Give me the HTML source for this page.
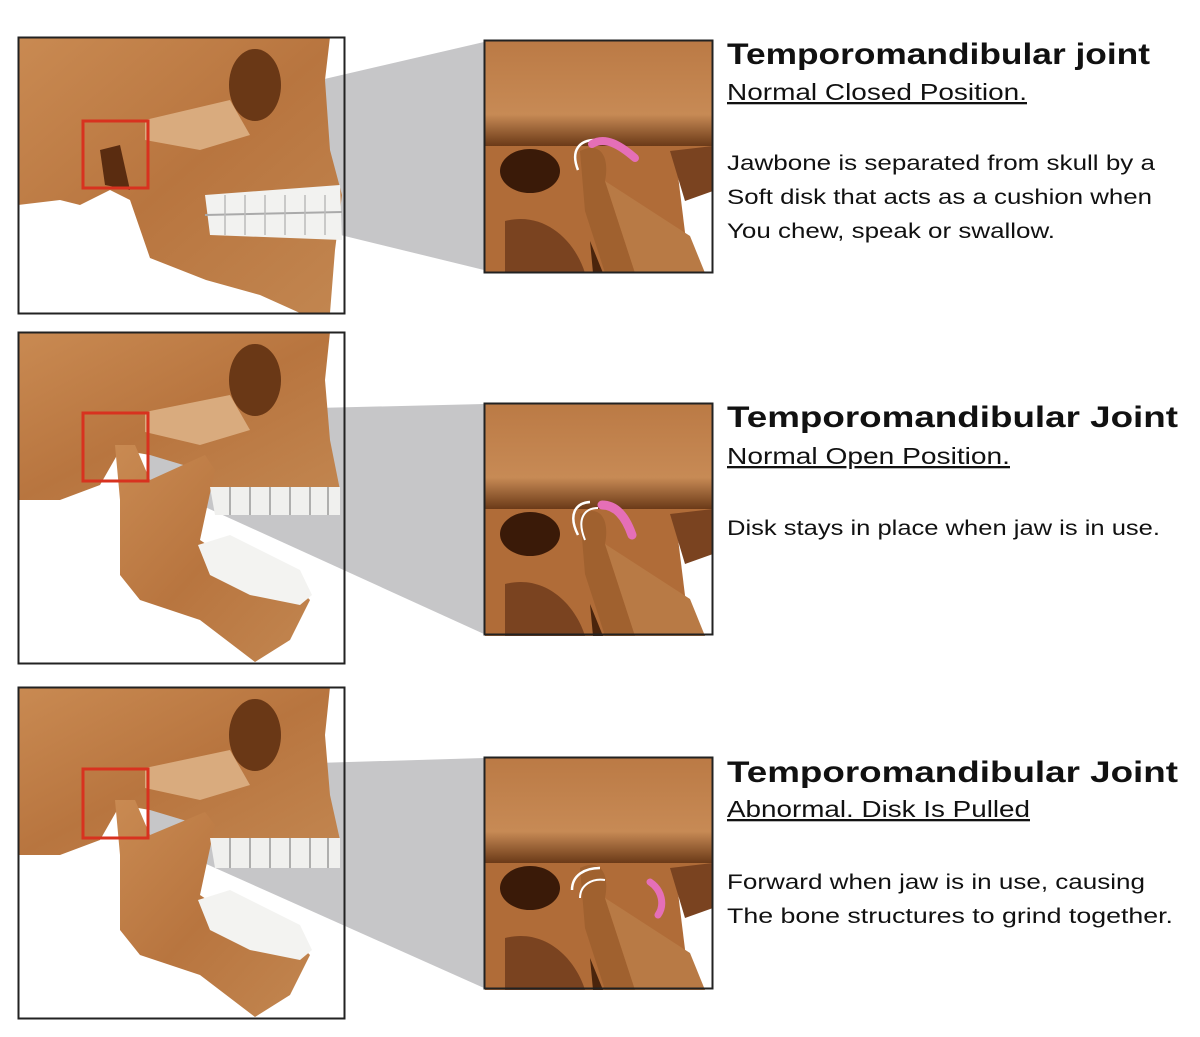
<!DOCTYPE html>
<html><head><meta charset="utf-8"><style>
html,body{margin:0;padding:0;background:#fff;}
svg{display:block}
text{font-family:"Liberation Sans",sans-serif;fill:#111}
.t{font-weight:bold;font-size:30px}
.s{font-size:23px;text-decoration:underline}
.b{font-size:21px}
</style></head><body>
<svg width="1200" height="1037" viewBox="0 0 1200 1037" xmlns="http://www.w3.org/2000/svg">
<defs>
<linearGradient id="bone" x1="0" y1="0" x2="1" y2="1">
<stop offset="0" stop-color="#c98a52"/><stop offset="0.5" stop-color="#b8753f"/><stop offset="1" stop-color="#c28650"/></linearGradient>
<linearGradient id="arch" x1="0" y1="0" x2="0" y2="1">
<stop offset="0" stop-color="#bb7a45"/><stop offset="0.7" stop-color="#c78a55"/><stop offset="1" stop-color="#6b3a18"/></linearGradient>
<g id="inset">
<rect x="0" y="0" width="228" height="232" fill="#b06c38"/>
<rect x="0" y="0" width="228" height="105" fill="url(#arch)"/>
<path d="M190,110 L228,110 L228,232 L205,232 Z" fill="#fff"/>
<path d="M185,110 L228,105 L228,150 L200,160 Z" fill="#7a4320"/>
<ellipse cx="45" cy="130" rx="30" ry="22" fill="#3a1a08"/>
<path d="M95,110 C115,100 125,115 120,140 L150,232 L120,232 L100,170 Z" fill="#a0612f"/>
<path d="M120,140 L205,195 L220,232 L150,232 Z" fill="#b87a45"/>
<path d="M20,180 C60,170 90,200 100,232 L20,232 Z" fill="#7a4320"/>
<path d="M105,200 L118,232 L108,232 Z" fill="#4a240c"/>
</g>
</defs>

<!-- gray projections -->
<polygon points="148,120 484,42 484,270 148,188" fill="#c6c6c8"/>
<polygon points="148,412 484,404 484,634 148,481" fill="#c6c6c8"/>
<polygon points="148,768 484,758 484,988 148,838" fill="#c6c6c8"/>

<!-- row1 skull -->
<path d="M18,37 H330 L325,80 L330,150 L342,195 L335,250 L330,313 H300 L260,295 L206,280 L150,258 L130,200 L110,190 L80,205 L60,200 L18,205 Z" fill="url(#bone)"/>
<ellipse cx="255" cy="85" rx="26" ry="36" fill="#6a3816"/>
<path d="M145,120 L230,100 L250,135 L200,150 L145,140 Z" fill="#d9ab7e"/>
<path d="M205,195 L340,185 L342,240 L210,235 Z" fill="#f2f2f0"/>
<path d="M205,215 L342,212" stroke="#aaa" stroke-width="2"/>
<g stroke="#bbb" stroke-width="1.5"><path d="M225,195V235M245,195V235M265,195V235M285,195V235M305,195V235M325,195V235"/></g>
<path d="M100,150 L120,145 L130,190 L105,185 Z" fill="#5a2c10"/>

<!-- row2 skull -->
<path d="M18,332 H330 L325,380 L330,440 L340,490 L210,490 L200,470 L150,455 L120,450 L100,485 L60,500 L18,500 Z" fill="url(#bone)"/>
<ellipse cx="255" cy="380" rx="26" ry="36" fill="#6a3816"/>
<path d="M145,412 L230,395 L250,430 L200,445 L145,432 Z" fill="#d9ab7e"/>
<path d="M115,445 L135,445 L150,480 L205,455 L215,470 L200,540 L230,560 L300,590 L310,600 L290,640 L255,662 L200,620 L140,600 L120,575 L120,500 Z" fill="url(#bone)"/>
<path d="M210,487 L340,487 L340,515 L215,515 Z" fill="#f0f0ee"/>
<g stroke="#999" stroke-width="1.5"><path d="M230,487V515M250,487V515M270,487V515M290,487V515M310,487V515M328,487V515"/></g>
<path d="M198,545 L230,535 L300,570 L312,595 L300,605 L250,595 L210,575 Z" fill="#f3f3f1"/>

<!-- row3 skull -->
<path d="M18,687 H330 L325,735 L330,795 L340,840 L210,840 L200,825 L150,810 L120,805 L100,840 L60,855 L18,855 Z" fill="url(#bone)"/>
<ellipse cx="255" cy="735" rx="26" ry="36" fill="#6a3816"/>
<path d="M145,768 L230,750 L250,785 L200,800 L145,788 Z" fill="#d9ab7e"/>
<path d="M115,800 L135,800 L150,835 L205,812 L215,825 L200,895 L230,915 L300,945 L310,955 L290,995 L255,1017 L200,975 L140,955 L120,930 L120,855 Z" fill="url(#bone)"/>
<path d="M210,838 L340,838 L340,868 L215,868 Z" fill="#f0f0ee"/>
<g stroke="#999" stroke-width="1.5"><path d="M230,838V868M250,838V868M270,838V868M290,838V868M310,838V868M328,838V868"/></g>
<path d="M198,900 L230,890 L300,925 L312,950 L300,960 L250,950 L210,930 Z" fill="#f3f3f1"/>

<!-- left frames -->
<rect x="18.5" y="37.5" width="326" height="276" fill="none" stroke="#222" stroke-width="2"/>
<rect x="18.5" y="332.5" width="326" height="331" fill="none" stroke="#222" stroke-width="2"/>
<rect x="18.5" y="687.5" width="326" height="331" fill="none" stroke="#222" stroke-width="2"/>
<!-- white outside frames right -->
<!-- red boxes -->
<rect x="83" y="121" width="65" height="67" fill="none" stroke="#d8321f" stroke-width="3"/>
<rect x="83" y="413" width="65" height="68" fill="none" stroke="#d8321f" stroke-width="3"/>
<rect x="83" y="769" width="65" height="69" fill="none" stroke="#d8321f" stroke-width="3"/>

<!-- insets -->
<use href="#inset" x="485" y="41"/>
<use href="#inset" x="485" y="404"/>
<use href="#inset" x="485" y="758"/>
<!-- disks -->
<path d="M578,170 C570,150 580,140 595,140" fill="none" stroke="#fff" stroke-width="2.5"/>
<path d="M592,144 C605,136 620,145 635,158" stroke="#e56fb7" stroke-width="8" fill="none" stroke-linecap="round"/>
<path d="M578,535 C568,515 575,503 590,502" fill="none" stroke="#fff" stroke-width="2.5"/>
<path d="M585,540 C576,518 585,508 598,508" fill="none" stroke="#fff" stroke-width="2"/>
<path d="M602,505 C615,505 625,515 632,535" stroke="#e56fb7" stroke-width="9" fill="none" stroke-linecap="round"/>
<path d="M572,890 C572,875 585,868 600,868" fill="none" stroke="#fff" stroke-width="2.5"/>
<path d="M580,898 C580,885 592,878 605,880" fill="none" stroke="#fff" stroke-width="2"/>
<path d="M650,882 C662,890 665,905 658,915" stroke="#e56fb7" stroke-width="7" fill="none" stroke-linecap="round"/>
<rect x="484.5" y="40.5" width="228" height="232" fill="none" stroke="#222" stroke-width="2"/>
<rect x="484.5" y="403.5" width="228" height="231" fill="none" stroke="#222" stroke-width="2"/>
<rect x="484.5" y="757.5" width="228" height="231" fill="none" stroke="#222" stroke-width="2"/>

<!-- text -->
<text class="t" x="727" y="64" textLength="423" lengthAdjust="spacingAndGlyphs">Temporomandibular joint</text>
<text class="s" x="727" y="100" textLength="300" lengthAdjust="spacingAndGlyphs">Normal Closed Position.</text>
<text class="b" x="727" y="170" textLength="428" lengthAdjust="spacingAndGlyphs">Jawbone is separated from skull by a</text>
<text class="b" x="727" y="204" textLength="425" lengthAdjust="spacingAndGlyphs">Soft disk that acts as a cushion when</text>
<text class="b" x="727" y="238" textLength="328" lengthAdjust="spacingAndGlyphs">You chew, speak or swallow.</text>

<text class="t" x="727" y="427" textLength="451" lengthAdjust="spacingAndGlyphs">Temporomandibular Joint</text>
<text class="s" x="727" y="464" textLength="283" lengthAdjust="spacingAndGlyphs">Normal Open Position.</text>
<text class="b" x="727" y="535" textLength="433" lengthAdjust="spacingAndGlyphs">Disk stays in place when jaw is in use.</text>

<text class="t" x="727" y="782" textLength="451" lengthAdjust="spacingAndGlyphs">Temporomandibular Joint</text>
<text class="s" x="727" y="817" textLength="303" lengthAdjust="spacingAndGlyphs">Abnormal. Disk Is Pulled</text>
<text class="b" x="727" y="889" textLength="418" lengthAdjust="spacingAndGlyphs">Forward when jaw is in use, causing</text>
<text class="b" x="727" y="923" textLength="446" lengthAdjust="spacingAndGlyphs">The bone structures to grind together.</text>
</svg>
</body></html>
